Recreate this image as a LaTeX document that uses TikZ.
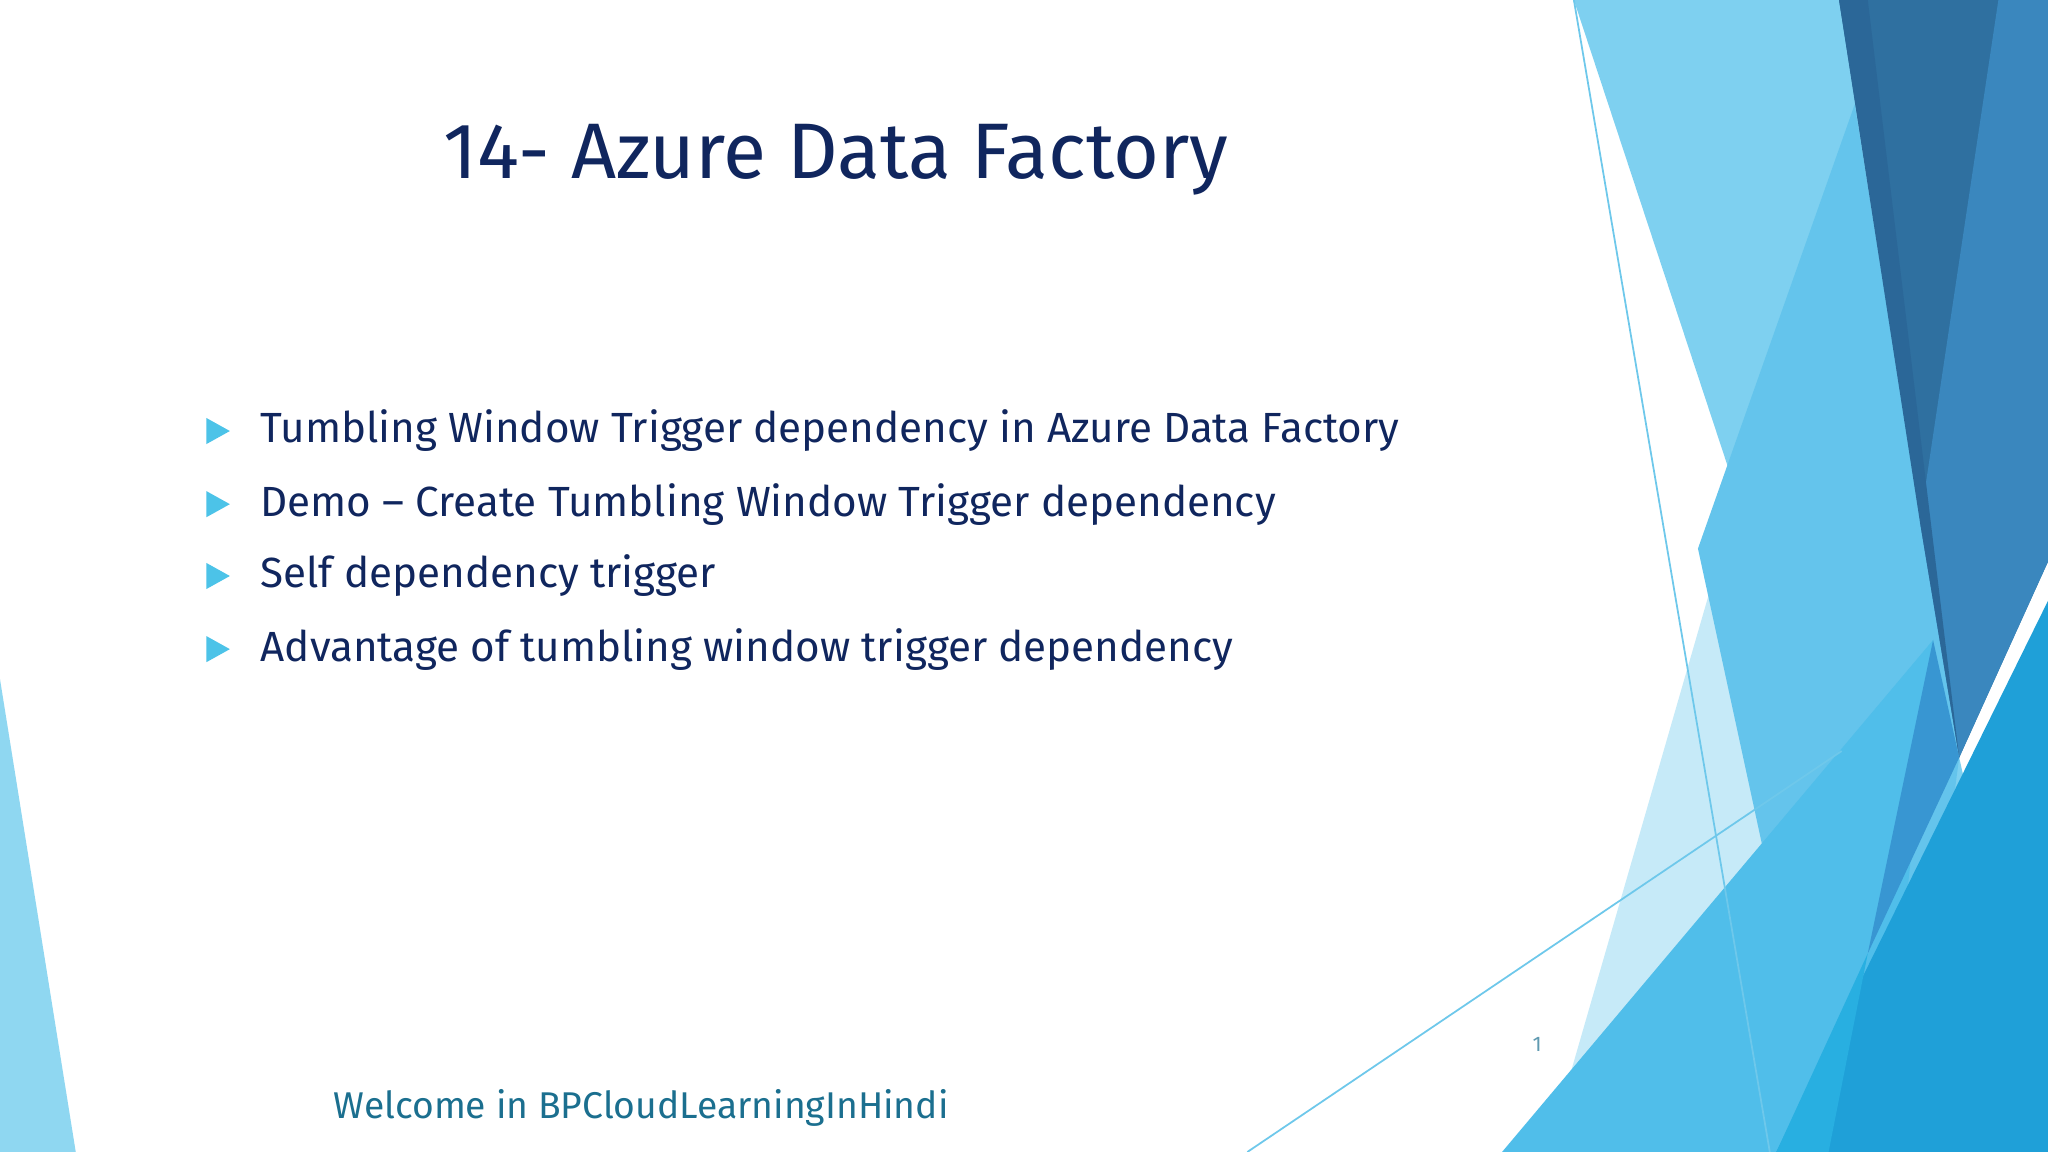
\documentclass[tikz,border=0pt]{standalone}
\usepackage{fontspec}
\setmainfont{Fira Sans}
\definecolor{navy}{HTML}{10265E}
\definecolor{teal}{HTML}{1B6F8F}
\definecolor{bul}{HTML}{4CC3E8}
\definecolor{strip}{HTML}{8FD7F1}
\begin{document}
\begin{tikzpicture}[x=0.013061cm,y=-0.013061cm,
  bullet/.style={fill=bul},
  item/.style={anchor=west,text=navy,font=\fontsize{12}{14}\selectfont,inner sep=0}]
\useasboundingbox (0,0) rectangle (1568,882);
\fill[white] (0,0) rectangle (1568,882);
% left strip
\fill[strip] (0,520) -- (58,882) -- (0,882) -- cycle;
% right decorations
\fill[color={rgb,255:red,126;green,208;blue,240}] (1205,0) -- (1410,0) -- (1500,580) -- (1568,882) -- (1496,882) -- cycle;
\fill[color={rgb,255:red,198;green,234;blue,248}] (1330,380) -- (1440,700) -- (1400,882) -- (1185,882) -- cycle;
\fill[color={rgb,255:red,100;green,196;blue,236}] (1420,80) -- (1500,580) -- (1460,882) -- (1400,882) -- (1300,420) -- cycle;
\fill[color={rgb,255:red,47;green,112;blue,160}] (1408,0) -- (1568,0) -- (1568,430) -- (1500,580) -- cycle;
\fill[color={rgb,255:red,58;green,135;blue,190}] (1530,0) -- (1568,0) -- (1568,430) -- (1500,580) -- (1470,400) -- cycle;
\fill[color={rgb,255:red,43;green,103;blue,152}] (1408,0) -- (1470,400) -- (1500,580) -- (1430,0) -- cycle;
\fill[color={rgb,255:red,80;green,190;blue,234}] (1150,882) -- (1480,490) -- (1440,882) -- cycle;
\fill[color={rgb,255:red,56;green,150;blue,210}] (1480,490) -- (1500,580) -- (1430,730) -- cycle;
\fill[color={rgb,255:red,31;green,160;blue,216}] (1360,882) -- (1568,460) -- (1568,882) -- cycle;
\fill[color={rgb,255:red,40;green,175;blue,225}] (1360,882) -- (1430,730) -- (1400,882) -- cycle;
% thin lines
\coordinate (l1a) at (1205,0); \coordinate (l1b) at (1355,882);
\coordinate (l2a) at (955,882); \coordinate (l2b) at (1410,575);
\draw[color={rgb,255:red,110;green,200;blue,235},line width=0.5pt] (l1a) -- (l1b);
\draw[color={rgb,255:red,110;green,200;blue,235},line width=0.5pt] (l2a) -- (l2b);
% title
\node[text=navy,font=\fontsize{22.4}{27}\selectfont] (title) at (640,122) {14- Azure Data Factory};
% bullets
\foreach \y/\t [count=\i] in {330/Tumbling Window Trigger dependency in Azure Data Factory,
  386/Demo – Create Tumbling Window Trigger dependency,
  441/Self dependency trigger,
  497/Advantage of tumbling window trigger dependency}{
  \fill[bullet] (158,\y-10) -- (176,\y) -- (158,\y+10) -- cycle;
  \node[item] (b\i) at (199,\y) {\t};
}
\node[text=teal,font=\fontsize{10.6}{13}\selectfont,anchor=west,inner sep=0] (welcome) at (255,848) {Welcome in BPCloudLearningInHindi};
\node[text=teal!70,font=\fontsize{6}{7}\selectfont] (num) at (1177,800) {1};
\end{tikzpicture}
\end{document}
